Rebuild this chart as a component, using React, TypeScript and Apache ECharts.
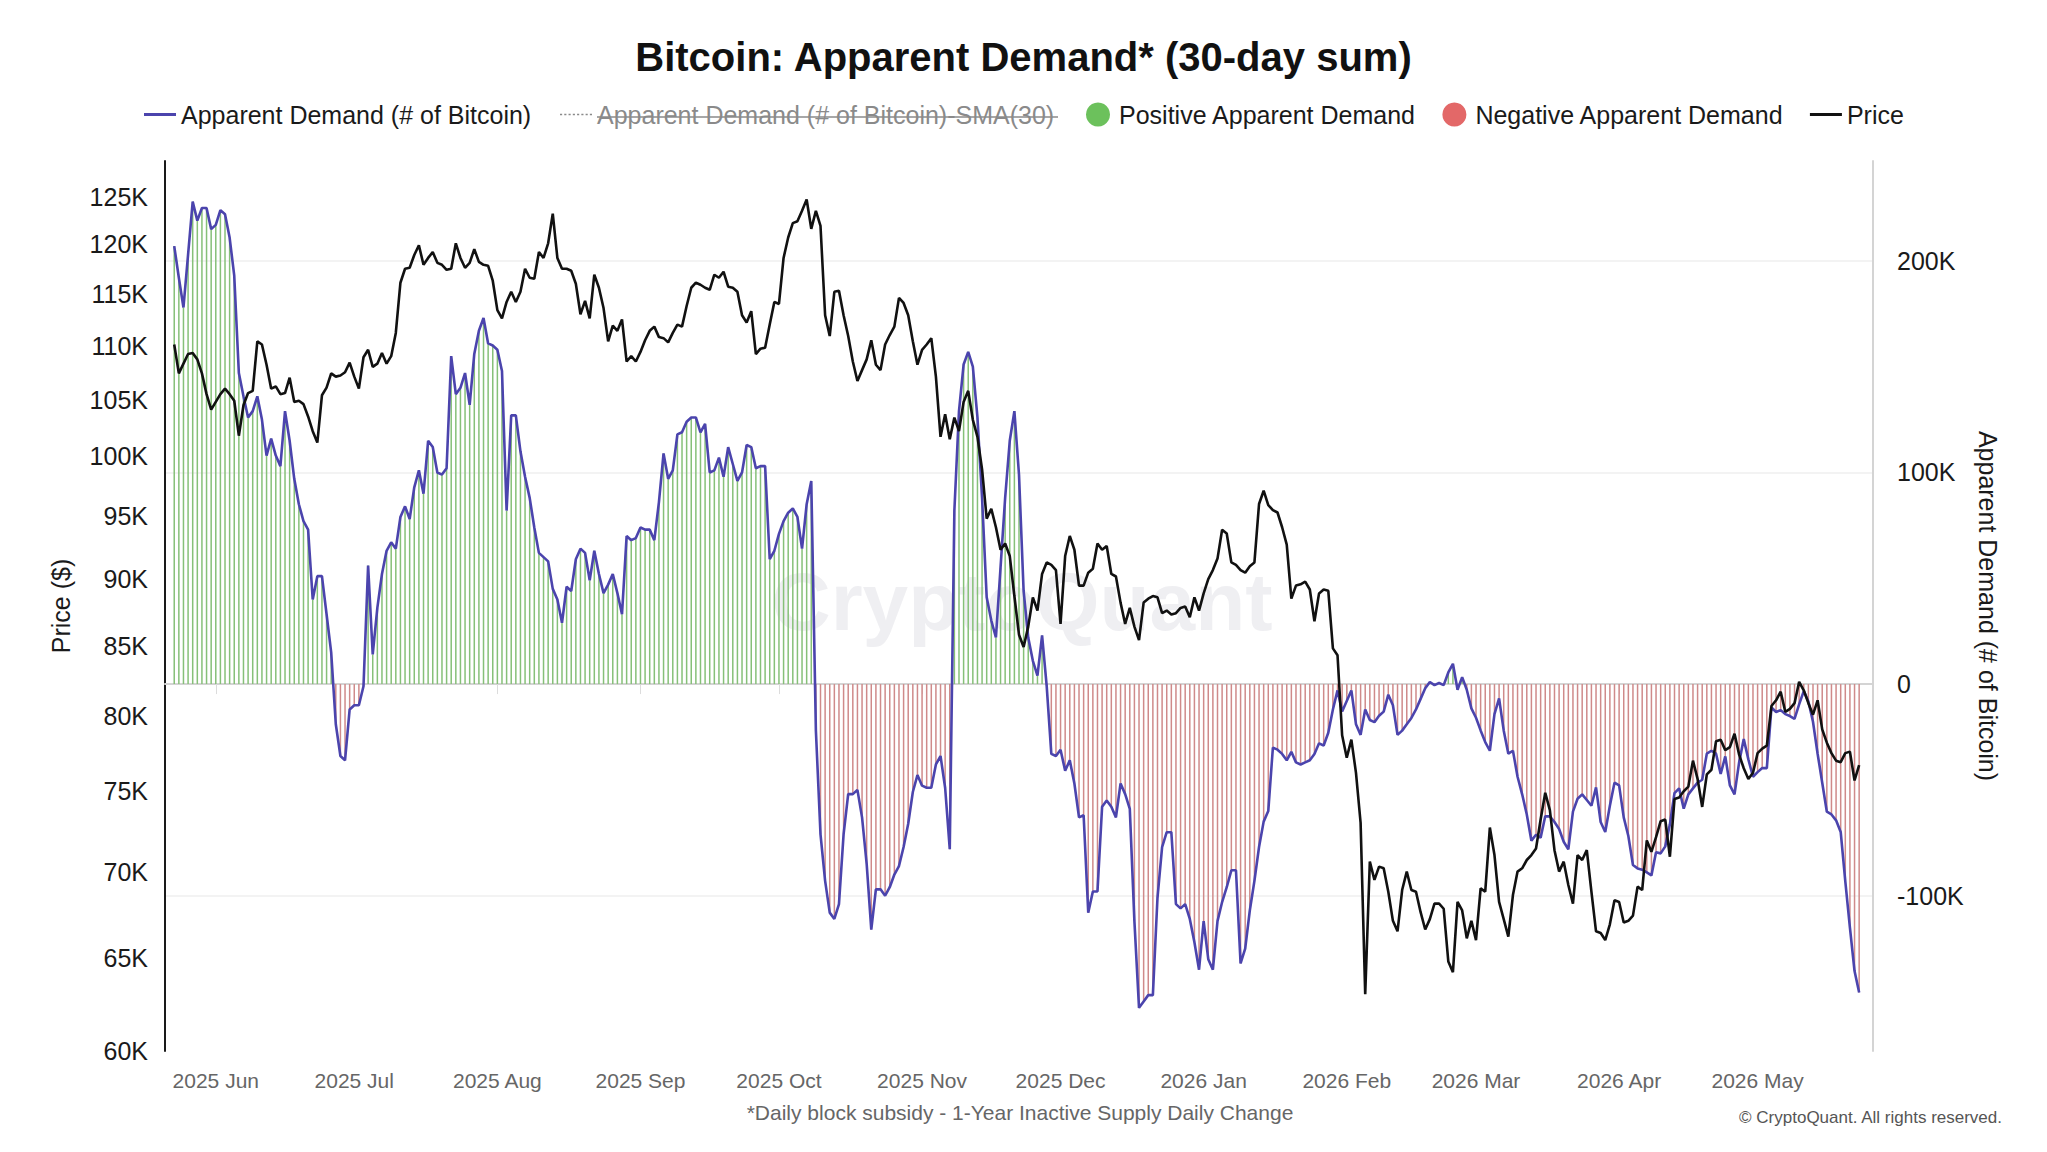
import React, { useEffect, useRef } from 'react';
import * as echarts from 'echarts';

// ---------------- data ----------------
const CATEGORY_START = '2025-05-21';
const CATEGORY_DAYS = 371;
const DATA_START = '2025-05-23';

// Apparent demand, 30-day sum, thousands of BTC (daily from DATA_START)
const demandK = [
  207, 192, 178, 203, 228, 219, 225, 225, 215, 217,
  224, 222, 211, 193, 147, 136, 126, 129, 136, 125,
  108, 116, 108, 103, 129, 115, 97, 85, 77, 73,
  40, 51, 51, 33, 15, -19, -34, -36, -12, -10,
  -10, -1, 56, 14, 36, 52, 63, 67, 64, 79,
  84, 78, 93, 101, 90, 115, 112, 100, 99, 102,
  155, 137, 140, 147, 132, 156, 167, 173, 161, 160,
  158, 148, 82, 127, 127, 110, 98, 88, 74, 62,
  60, 58, 45, 40, 29, 46, 44, 59, 64, 62,
  49, 63, 52, 43, 47, 52, 43, 33, 70, 68,
  69, 74, 73, 73, 68, 86, 109, 97, 101, 118,
  119, 124, 126, 126, 119, 123, 100, 101, 107, 98,
  112, 104, 96, 100, 113, 112, 102, 103, 103, 59,
  63, 71, 77, 81, 83, 79, 64, 85, 96, -22,
  -71, -93, -108, -111, -104, -71, -52, -52, -50, -63,
  -85, -116, -97, -97, -100, -96, -90, -86, -77, -66,
  -51, -43, -48, -49, -49, -38, -34, -49, -78, 82,
  129, 151, 157, 150, 126, 88, 41, 30, 22, 55,
  88, 115, 129, 99, 44, 22, 11, 4, 23, -1,
  -33, -34, -31, -41, -36, -47, -63, -62, -108, -98,
  -98, -58, -55, -58, -63, -47, -52, -59, -112, -153,
  -150, -147, -147, -101, -77, -70, -70, -104, -106, -104,
  -111, -122, -135, -112, -130, -135, -112, -103, -96, -88,
  -88, -132, -125, -107, -93, -77, -65, -60, -30, -31,
  -33, -36, -32, -37, -38, -37, -36, -33, -28, -29,
  -23, -12, -3, -13, -8, -3, -19, -24, -12, -17,
  -18, -15, -13, -5, -10, -24, -22, -19, -16, -12,
  -7, -2, 1, -0.5, 0.5, -0.5, 5.5, 9.6, -2.7, 3.3,
  -2.7, -11.5, -15.9, -21.9, -27.4, -31.5, -14.2, -6.8, -21.9, -32.9,
  -31.5, -43.8, -52.1, -61.6, -74.0, -71.2, -72.6, -62.5, -62.5, -65.2,
  -68.5, -74.5, -78.1, -60.3, -54.2, -52.1, -54.8, -57.5, -48.8, -65.2,
  -69.9, -57.5, -46.6, -47.9, -63.0, -71.8, -85.5, -87.1, -87.7, -89.0,
  -90.4, -79.5, -80.0, -76.7, -66.3, -51.5, -49.3, -58.9, -52.1, -49.3,
  -46.6, -45.2, -32.9, -31.5, -32.9, -42.5, -34.2, -47.9, -52.1, -37.0,
  -26.0, -35.6, -43.8, -41.6, -39.7, -39.7, -11.0, -13.2, -12.3, -14.2,
  -15.1, -16.4, -9.6, -3.3, -8.2, -17.8, -32.9, -46.6, -60.3, -61.6,
  -64.4, -69.9, -93.2, -115.1, -135.6, -145.8,
];

// BTC price, thousands of USD (daily from DATA_START)
const priceK = [
  110.1, 107.4, 108.3, 109.2, 109.3, 108.7, 107.4, 105.5, 104.1, 104.8,
  105.5, 106.0, 105.5, 104.9, 101.8, 104.5, 105.6, 105.8, 110.4, 110.1,
  108.2, 106.0, 106.2, 105.5, 105.6, 107.0, 104.8, 104.9, 104.6, 103.5,
  102.2, 101.2, 105.4, 106.1, 107.4, 107.1, 107.2, 107.5, 108.4, 107.1,
  106.0, 108.9, 109.6, 108.0, 108.3, 109.3, 108.3, 109.0, 111.2, 116.1,
  117.5, 117.6, 118.9, 119.9, 117.9, 118.6, 119.2, 118.1, 117.9, 117.4,
  117.5, 120.1, 118.6, 117.6, 118.1, 119.5, 118.2, 117.9, 117.8, 116.3,
  113.4, 112.6, 114.2, 115.2, 114.2, 115.2, 117.5, 116.6, 116.5, 119.2,
  118.6, 120.1, 123.2, 118.6, 117.5, 117.5, 117.3, 116.0, 113.0, 114.3,
  112.6, 116.9, 115.6, 113.6, 110.4, 111.9, 111.4, 112.5, 108.5, 109.0,
  108.5, 109.4, 110.5, 111.4, 111.8, 110.8, 110.7, 110.3, 111.2, 112.0,
  111.8, 113.8, 115.6, 116.1, 115.9, 115.6, 115.4, 116.9, 116.6, 117.2,
  115.7, 115.6, 115.2, 112.9, 112.2, 113.3, 109.2, 109.7, 109.8, 112.0,
  114.2, 114.0, 118.6, 120.7, 122.2, 122.4, 123.5, 124.7, 121.6, 123.5,
  121.9, 112.9, 110.9, 115.2, 115.3, 112.9, 110.9, 108.5, 106.7, 107.7,
  108.7, 110.5, 108.2, 107.7, 110.1, 111.0, 111.8, 114.6, 114.1, 112.9,
  110.4, 108.2, 109.6, 110.1, 110.7, 107.1, 101.7, 103.7, 101.5, 103.4,
  102.2, 104.8, 105.8, 103.2, 101.7, 98.9, 94.8, 95.6, 94.1, 92.3,
  92.8, 91.8, 88.7, 85.8, 84.9, 86.4, 88.6, 87.6, 90.4, 91.3,
  91.1, 90.7, 86.6, 91.8, 93.4, 92.3, 89.5, 89.5, 90.5, 90.8,
  92.8, 92.3, 92.6, 90.4, 90.2, 88.2, 86.6, 87.8, 86.4, 85.4,
  88.2, 88.5, 88.7, 88.6, 87.4, 87.6, 87.3, 87.4, 87.8, 87.9,
  87.1, 88.6, 87.6, 88.9, 90.0, 90.7, 91.6, 93.9, 93.6, 91.3,
  91.1, 90.7, 90.5, 91.0, 91.3, 96.0, 97.1, 95.9, 95.5, 95.3,
  94.1, 92.7, 88.5, 89.5, 89.6, 89.8, 89.2, 86.8, 88.9, 89.2,
  89.1, 84.8, 84.3, 78.7, 77.2, 78.4, 76.2, 73.0, 63.0, 70.6,
  69.5, 70.3, 70.2, 68.8, 67.1, 66.5, 68.9, 70.0, 68.9, 68.8,
  67.6, 66.6, 67.2, 68.1, 68.1, 67.8, 64.8, 64.2, 68.2, 67.7,
  66.1, 67.1, 66.0, 69.0, 68.8, 72.7, 71.0, 68.2, 67.2, 66.2,
  68.6, 70.0, 70.2, 70.7, 71.0, 71.4, 73.2, 74.9, 73.8, 71.3,
  70.0, 70.6, 69.2, 68.1, 71.0, 70.7, 71.3, 68.8, 66.5, 66.4,
  66.0, 66.9, 68.3, 68.2, 67.0, 67.1, 67.4, 69.1, 68.9, 71.9,
  71.2, 72.1, 73.1, 73.2, 70.9, 74.5, 74.6, 75.0, 75.3, 77.0,
  75.8, 74.0, 76.1, 76.4, 78.3, 78.4, 77.7, 77.9, 78.8, 77.4,
  76.5, 75.8, 76.2, 77.5, 77.8, 78.0, 80.7, 81.1, 81.7, 80.3,
  80.5, 80.9, 82.4, 81.8, 80.9, 80.1, 81.1, 79.1, 78.2, 77.5,
  77.0, 76.9, 77.5, 77.6, 75.7, 76.7,
];

const priceTicksK = [60, 65, 70, 75, 80, 85, 90, 95, 100, 105, 110, 115, 120, 125];
const priceRangeK = [60, 128.9];
const demandTicksK = [-100, 0, 100, 200];
const demandRangeK = [-173.4, 247.2];
const MONTHS = ['Jan', 'Feb', 'Mar', 'Apr', 'May', 'Jun', 'Jul', 'Aug', 'Sep', 'Oct', 'Nov', 'Dec'];

const TITLE = 'Bitcoin: Apparent Demand* (30-day sum)';
const S_DEMAND = 'Apparent Demand (# of Bitcoin)';
const S_SMA = 'Apparent Demand (# of Bitcoin)-SMA(30)';
const S_POS = 'Positive Apparent Demand';
const S_NEG = 'Negative Apparent Demand';
const S_PRICE = 'Price';
const FOOTNOTE = '*Daily block subsidy - 1-Year Inactive Supply Daily Change';
const COPYRIGHT = '© CryptoQuant. All rights reserved.';

const FONT = '"Liberation Sans", Arial, Helvetica, sans-serif';

const ICON_LINE = 'path://M0,0H32V3H0Z';
const ICON_DOTTED =
  'path://M0,0h2v1.6h-2z M4,0h2v1.6h-2z M8,0h2v1.6h-2z M12,0h2v1.6h-2z M16,0h2v1.6h-2z M20,0h2v1.6h-2z M24,0h2v1.6h-2z M28,0h2v1.6h-2z';

function buildDates(start: string, n: number): string[] {
  const out: string[] = [];
  const t0 = Date.parse(start + 'T00:00:00Z');
  for (let i = 0; i < n; i++) {
    out.push(new Date(t0 + i * 86400000).toISOString().slice(0, 10));
  }
  return out;
}

function buildOption() {
  const dates = buildDates(CATEGORY_START, CATEGORY_DAYS);
  const offset = dates.indexOf(DATA_START);
  const align = (arr: (number | null)[]) => {
    const out: (number | null)[] = new Array(dates.length).fill(null);
    arr.forEach((v, i) => {
      out[offset + i] = v;
    });
    return out;
  };
  const demand = align(demandK.map((v) => v * 1000));
  const pos = align(demandK.map((v) => (v > 0 ? v * 1000 : null)));
  const neg = align(demandK.map((v) => (v < 0 ? v * 1000 : null)));
  const price = align(priceK.map((v) => Math.log(v * 1000)));

  const isMonthStart = (_i: number, val: string) => val.slice(8, 10) === '01';

  const legendBase = {
    top: 102,
    padding: 0,
    itemWidth: 32,
    itemHeight: 24,
    symbolKeepAspect: true,
  };

  return {
    animation: false,
    backgroundColor: '#ffffff',
    textStyle: { fontFamily: FONT },
    title: {
      text: TITLE,
      left: 'center',
      top: 37,
      padding: 0,
      textStyle: { fontSize: 40, fontWeight: 'bold', color: '#111111', fontFamily: FONT },
    },
    legend: [
      {
        ...legendBase,
        left: 144,
        textStyle: { fontSize: 25, color: '#1a1a1a', fontFamily: FONT },
        data: [{ name: S_DEMAND, icon: ICON_LINE, itemStyle: { color: '#4b44ad', borderWidth: 0 } }],
      },
      {
        ...legendBase,
        left: 560,
        inactiveColor: '#8a8a8a',
        inactiveBorderColor: '#8a8a8a',
        textStyle: { fontSize: 25, color: '#8a8a8a', fontFamily: FONT },
        data: [{ name: S_SMA, icon: ICON_DOTTED, itemStyle: { color: '#8a8a8a', borderWidth: 0 } }],
        selected: { [S_SMA]: false },
      },
      {
        ...legendBase,
        left: 1086,
        itemGap: 26,
        textStyle: { fontSize: 25, color: '#1a1a1a', fontFamily: FONT },
        data: [
          { name: S_POS, icon: 'circle', itemStyle: { color: '#6cc15c', borderWidth: 0 } },
          { name: S_NEG, icon: 'circle', itemStyle: { color: '#e36868', borderWidth: 0 } },
          { name: S_PRICE, icon: ICON_LINE, itemStyle: { color: '#111111', borderWidth: 0 } },
        ],
      },
    ],
    grid: { left: 165, right: 174, top: 161, bottom: 101 },
    xAxis: {
      type: 'category',
      data: dates,
      boundaryGap: false,
      axisLine: { show: true, lineStyle: { color: '#d4d4d4', width: 2 } },
      axisTick: { show: true, interval: isMonthStart, length: 10, lineStyle: { color: '#dcdcdc', width: 1 } },
      axisLabel: {
        interval: isMonthStart,
        margin: 19,
        fontSize: 21,
        color: '#666666',
        fontFamily: FONT,
        formatter: (val: string) => `${val.slice(0, 4)} ${MONTHS[Number(val.slice(5, 7)) - 1]}`,
      },
      splitLine: { show: false },
    },
    yAxis: [
      {
        type: 'value',
        position: 'left',
        min: Math.log(priceRangeK[0] * 1000),
        max: Math.log(priceRangeK[1] * 1000),
        axisLine: { show: true, lineStyle: { color: '#1a1a1a', width: 2 } },
        axisTick: { show: false, customValues: priceTicksK.map((v) => Math.log(v * 1000)) },
        axisLabel: {
          customValues: priceTicksK.map((v) => Math.log(v * 1000)),
          formatter: (v: number) => `${Math.round(Math.exp(v) / 1000)}K`,
          fontSize: 25,
          color: '#1a1a1a',
          margin: 17,
          fontFamily: FONT,
        },
        splitLine: { show: false },
        name: 'Price ($)',
        nameLocation: 'middle',
        nameRotate: 90,
        nameGap: 92,
        nameTextStyle: { fontSize: 25, color: '#1a1a1a', fontFamily: FONT },
      },
      {
        type: 'value',
        position: 'right',
        min: demandRangeK[0] * 1000,
        max: demandRangeK[1] * 1000,
        axisLine: { show: true, lineStyle: { color: '#d4d4d4', width: 2 } },
        axisTick: { show: false, customValues: demandTicksK.map((v) => v * 1000) },
        axisLabel: {
          customValues: demandTicksK.map((v) => v * 1000),
          formatter: (v: number) => (v === 0 ? '0' : `${Math.round(v / 1000)}K`),
          fontSize: 25,
          color: '#1a1a1a',
          margin: 24,
          fontFamily: FONT,
        },
        splitLine: { show: true, lineStyle: { color: '#efefef', width: 1.5 } },
        name: S_DEMAND,
        nameLocation: 'middle',
        nameRotate: -90,
        nameGap: 102,
        nameTextStyle: { fontSize: 25, color: '#1a1a1a', fontFamily: FONT },
      },
    ],
    graphic: [
      {
        type: 'text',
        z: 0,
        x: 1022,
        y: 601,
        silent: true,
        style: {
          text: 'CryptoQuant',
          fontSize: 82,
          fontWeight: 600,
          fontFamily: FONT,
          fill: 'rgba(175,175,190,0.2)',
          textAlign: 'center',
          textVerticalAlign: 'middle',
        },
      },
      {
        type: 'line',
        z: 100,
        silent: true,
        shape: { x1: 597, y1: 117, x2: 1058, y2: 117 },
        style: { stroke: '#8a8a8a', lineWidth: 1.5 },
      },
      {
        type: 'text',
        x: 1020,
        y: 1112,
        silent: true,
        style: {
          text: FOOTNOTE,
          fontSize: 21,
          fontFamily: FONT,
          fill: '#666666',
          textAlign: 'center',
          textVerticalAlign: 'middle',
        },
      },
      {
        type: 'text',
        x: 2002,
        y: 1117,
        silent: true,
        style: {
          text: COPYRIGHT,
          fontSize: 17,
          fontFamily: FONT,
          fill: '#555555',
          textAlign: 'right',
          textVerticalAlign: 'middle',
        },
      },
    ],
    series: [
      {
        name: S_POS,
        type: 'bar',
        yAxisIndex: 1,
        data: pos,
        barWidth: 1.5,
        barGap: '-100%',
        itemStyle: { color: '#86c078' },
        z: 2,
      },
      {
        name: S_NEG,
        type: 'bar',
        yAxisIndex: 1,
        data: neg,
        barWidth: 1.5,
        barGap: '-100%',
        itemStyle: { color: '#cf8a8a' },
        z: 2,
      },
      {
        name: S_SMA,
        type: 'line',
        yAxisIndex: 1,
        data: [],
        symbol: 'none',
        lineStyle: { type: 'dotted', width: 1.5, color: '#999999' },
        itemStyle: { color: '#999999' },
      },
      {
        name: S_DEMAND,
        type: 'line',
        yAxisIndex: 1,
        data: demand,
        symbol: 'none',
        showSymbol: false,
        lineStyle: { width: 2.6, color: '#4b44ad' },
        itemStyle: { color: '#4b44ad' },
        z: 3,
      },
      {
        name: S_PRICE,
        type: 'line',
        yAxisIndex: 0,
        data: price,
        symbol: 'none',
        showSymbol: false,
        lineStyle: { width: 2.6, color: '#111111' },
        itemStyle: { color: '#111111' },
        z: 4,
      },
    ],
  };
}

export default function App() {
  const ref = useRef<HTMLDivElement>(null);
  useEffect(() => {
    document.body.style.margin = '0';
    if (!ref.current) return;
    const chart = echarts.init(ref.current, undefined, { renderer: 'svg' });
    chart.setOption(buildOption() as any);
    return () => {
      chart.dispose();
    };
  }, []);
  return <div ref={ref} style={{ width: 2047, height: 1152, background: '#ffffff' }} />;
}
